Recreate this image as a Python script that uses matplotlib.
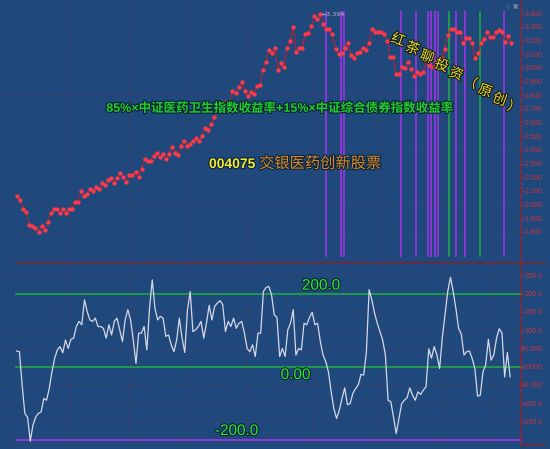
import matplotlib
matplotlib.use('Agg')
import numpy as np
import matplotlib.pyplot as plt
import matplotlib.patheffects as pe
from matplotlib.lines import Line2D

# ---------------- data ----------------
nav = [2.065, 2.032, 1.966, 1.944, 1.851, 1.846, 1.832, 1.802, 1.846, 1.815,
       1.871, 1.937, 1.968, 1.971, 1.937, 1.966, 1.937, 1.966, 1.971, 2.022,
       2.022, 2.098, 2.063, 2.080, 2.114, 2.102, 2.127, 2.112, 2.160, 2.144,
       2.180, 2.193, 2.158, 2.193, 2.233, 2.204, 2.163, 2.214, 2.217, 2.236,
       2.204, 2.263, 2.336, 2.321, 2.321, 2.358, 2.380, 2.346, 2.368, 2.331,
       2.368, 2.423, 2.375, 2.363, 2.428, 2.467, 2.428, 2.443, 2.467, 2.489,
       2.465, 2.502, 2.558, 2.545, 2.587, 2.638, 2.691, 2.740, 2.750, 2.748,
       2.748, 2.832, 2.813, 2.862, 2.894, 2.832, 2.796, 2.825, 2.808, 2.867,
       2.874, 2.984, 3.040, 3.130, 3.105, 3.147, 2.984, 3.032, 3.003, 3.142,
       3.196, 3.300, 3.113, 3.147, 3.147, 3.244, 3.252, 3.305, 3.378, 3.356,
       3.394, 3.317, 3.281, 3.281, 3.244, 3.137, 3.100, 3.105, 3.142, 3.179,
       3.093, 3.074, 3.105, 3.117, 3.142, 3.130, 3.183, 3.281, 3.264, 3.264,
       3.264, 3.244, 3.196, 3.081, 3.076, 2.954, 2.954, 3.008, 3.000, 3.040,
       2.989, 2.940, 2.971, 2.954, 2.971, 3.057, 3.020, 3.008, 3.044, 3.033,
       3.069, 3.135, 3.239, 3.281, 3.281, 3.259, 3.260, 3.183, 3.215, 3.215,
       3.183, 3.069, 3.105, 3.183, 3.208, 3.264, 3.227, 3.227, 3.259, 3.276,
       3.259, 3.186, 3.232, 3.183]

cci = [43, 41, -50, -128, -138, -204, -160, -138, -128, -124,
       -87, -92, -60, -14, 23, 46, 55, 38, 73, 50,
       75, 78, 110, 124, 115, 183, 151, 128, 124, 133,
       110, 110, 105, 78, 115, 87, 124, 133, 101, 69,
       128, 156, 128, 73, 9, 92, 92, 110, 46, 160,
       238, 160, 128, 138, 133, 83, 87, 60, 41, 73,
       133, 78, 39, 156, 206, 96, 101, 110, 124, 78,
       119, 168, 128, 165, 174, 181, 170, 96, 124, 110,
       133, 105, 119, 124, 92, 50, 41, 60, 28, 92,
       92,
       206, 217, 220, 197, 142, 135, 28, 50, 28, 101,
       119, 156, 32, 50, 46, 119, 115, 135, 149, 115,
       119, 69, 32, 14, -14, -69, -115, -142, -119, -87,
       -58, -104, -101, -73, -60, -50, -21, -23, 41, 211,
       183, 147, 119, 96, 73, 32, -92, -96, -138, -183,
       -142, -101, -92, -85, -58, -78, -92, -69, -76, -64,
       -55, 49, 23, 55, 32, -5, 80, 142, 206, 245,
       206, 160, 105, 89, 32, 41, 43, 23, -5, -81,
       -78, -14, 5, 75, 18, 32, 78, 104, 92, -28,
       39, -28]

top_ticks = [3.4, 3.3, 3.2, 3.1, 3.0, 2.9, 2.8, 2.7, 2.6, 2.5, 2.4, 2.3, 2.2, 2.1, 2.0, 1.9, 1.8]
top_tick_labels = ['3.400', '3.300', '3.200', '3.100', '3.000', '2.900', '2.800', '2.700', '2.600',
                   '2.500', '2.400', '2.300', '2.200', '2.100', '2.000', '1.900', '1.800']
bot_ticks = [250, 200, 150, 100, 50, 0, -50, -100, -150]
bot_tick_labels = ['250.0', '200.0', '150.0', '100.0', '50.000', '0.0000', '-50.000', '-100.0', '-150.0']
bot_grid = [250, 150, 100, 50, -50, -100, -150]
month_lines = [16.7, 37.5, 55.7, 75.8, 97.9, 119.0, 141.0, 157.0]
purple_marks = [101.8, 106.7, 107.7, 126.6, 131.7, 135.4, 136.4, 137.7, 138.8, 144.6, 147.7, 160.5]
green_marks = [142.6, 152.6]
ref_levels = [200, 0]
low_level = -200
peak_label = '←3.394'

title_formula = '85%×中证医药卫生指数收益率+15%×中证综合债券指数收益率'
fund_code = '004075'
fund_name = '交银医药创新股票'
watermark = '红茶聊投资（原创）'

# ---------------- style ----------------
BG = '#1f497d'
RED = '#c8323e'
GRID = '#6a3150'
CJK = ['Noto Sans CJK SC', 'DejaVu Sans']
MIX = ['Liberation Sans', 'Noto Sans CJK SC']
W, H = 550, 449

def fx(px):
    return px / W

def fy(py):
    return 1 - py / H

fig = plt.figure(figsize=(5.5, 4.49), dpi=100, facecolor=BG)
ax1 = fig.add_axes([0, fy(258), 521 / W, 258 / H], facecolor=BG)
ax2 = fig.add_axes([0, fy(444), 521 / W, (444 - 262) / H], facecolor=BG)

XL = (-5.71, 166.2)
for ax in (ax1, ax2):
    ax.set_xlim(*XL)
    for s in ax.spines.values():
        s.set_visible(False)
    ax.set_xticks([])
    ax.yaxis.tick_right()

ax1.set_ylim(1.610, 3.495)
ax2.set_ylim(-211.8, 286.8)

# grids
for v in top_ticks:
    strong = abs((v * 10) % 4) < 1e-6 or abs(v - 1.8) < 1e-6
    ax1.axhline(v, color=GRID, lw=0.6 if strong else 0.4, ls=(0, (1, 2)),
                alpha=0.9 if strong else 0.45, zorder=0)
for v in bot_grid:
    ax2.axhline(v, color=GRID, lw=0.6, ls=(0, (1, 2)), zorder=0)
for m in month_lines:
    ax1.axvline(m, color=GRID, lw=0.6, ls=(0, (1, 2)), zorder=0)
    ax2.axvline(m, color=GRID, lw=0.6, ls=(0, (1, 2)), zorder=0)

# top series
x1 = np.arange(len(nav))
for p in purple_marks:
    ax1.axvline(p, ymin=0.008, ymax=0.953, color='#8a38d4', lw=1.4, zorder=1)
for g in green_marks:
    ax1.axvline(g, ymin=0.008, ymax=0.953, color='#1fae3c', lw=1.1, zorder=1)
ax1.plot(x1, nav, color='#a82638', lw=0.8, zorder=3)
ax1.plot(x1, nav, ls='none', marker='o', ms=2.1, mfc='#ff3a48', mec='#ff3a48', zorder=4)

# bottom series
x2 = np.linspace(-0.2, 162.6, len(cci))
x0f = 16 / 521
for lv in ref_levels:
    ax2.axhline(lv, xmin=x0f, color='#22b03c', lw=1.1, zorder=1)
ax2.axhline(low_level, xmin=x0f, color='#a035d8', lw=1.3, zorder=1)
ax2.plot(x2, cci, color='#d4d8e6', lw=0.9, zorder=3)

# borders
ax2.plot([x0f, 545 / 521], [1, 1], transform=ax2.transAxes, color='#8a1f2a', lw=1.0, clip_on=False)
ax2.plot([1, 545 / 521], [0, 0], transform=ax2.transAxes, color='#8a1f2a', lw=1.0, clip_on=False)
fig.add_artist(Line2D([fx(521), fx(521)], [fy(0), fy(444)], color='#9a2230', lw=1.0))

# ticks
ax1.set_yticks(top_ticks)
ax1.set_yticklabels(top_tick_labels)
ax2.set_yticks(bot_ticks)
ax2.set_yticklabels(bot_tick_labels)
for ax in (ax1, ax2):
    ax.tick_params(axis='y', colors=RED, length=2, width=0.6, pad=13.6, labelsize=5.1)
    for t in ax.get_yticklabels():
        t.set_horizontalalignment('right')
        t.set_fontfamily('Liberation Sans')

# texts
shadow = [pe.withStroke(linewidth=1.6, foreground='#0b2438')]
fig.text(fx(279.7), fy(108.7), title_formula, ha='center', va='center', color='#20cc28',
         fontsize=9, fontweight='bold', family=MIX, path_effects=shadow)
fig.text(fx(209), fy(164), fund_code, ha='left', va='center', color='#f2ea30',
         fontsize=10, fontweight='bold', family=['Liberation Sans'], path_effects=shadow)
fig.text(fx(259), fy(163.5), fund_name, ha='left', va='center', color='#dc8a2e',
         fontsize=11, family=CJK, path_effects=shadow)

# watermark written character by character along a descending diagonal
wm_start = np.array([398.0, 40.0])
wm_end = np.array([514.0, 108.0])
n_wm = len(watermark)
for i, ch in enumerate(watermark):
    p = wm_start + (wm_end - wm_start) * i / (n_wm - 1)
    fig.text(fx(p[0]), fy(p[1]), ch, ha='center', va='center', color='#e8e030',
             fontsize=10, family=CJK, rotation=-20, rotation_mode='anchor', style='italic',
             path_effects=[pe.withStroke(linewidth=1.6, foreground='#1a1a10')])

fig.text(fx(322), fy(15), peak_label, ha='left', va='center', color='#b8c0d0', fontsize=4.5)
fig.text(fx(512), fy(7), '◇ ▣', ha='center', va='center', color='#7f8ca0', fontsize=4.5)

lvl_fx = dict(ha='center', va='center', color='#2ee830', fontsize=11,
              family=['Liberation Sans'], path_effects=shadow)
fig.text(fx(321), fy(285.7), '200.0', **lvl_fx)
fig.text(fx(295.5), fy(375), '0.00', **lvl_fx)
fig.text(fx(236.5), fy(431), '-200.0', **lvl_fx)

fig.savefig('out.png', dpi=100, facecolor=BG)
